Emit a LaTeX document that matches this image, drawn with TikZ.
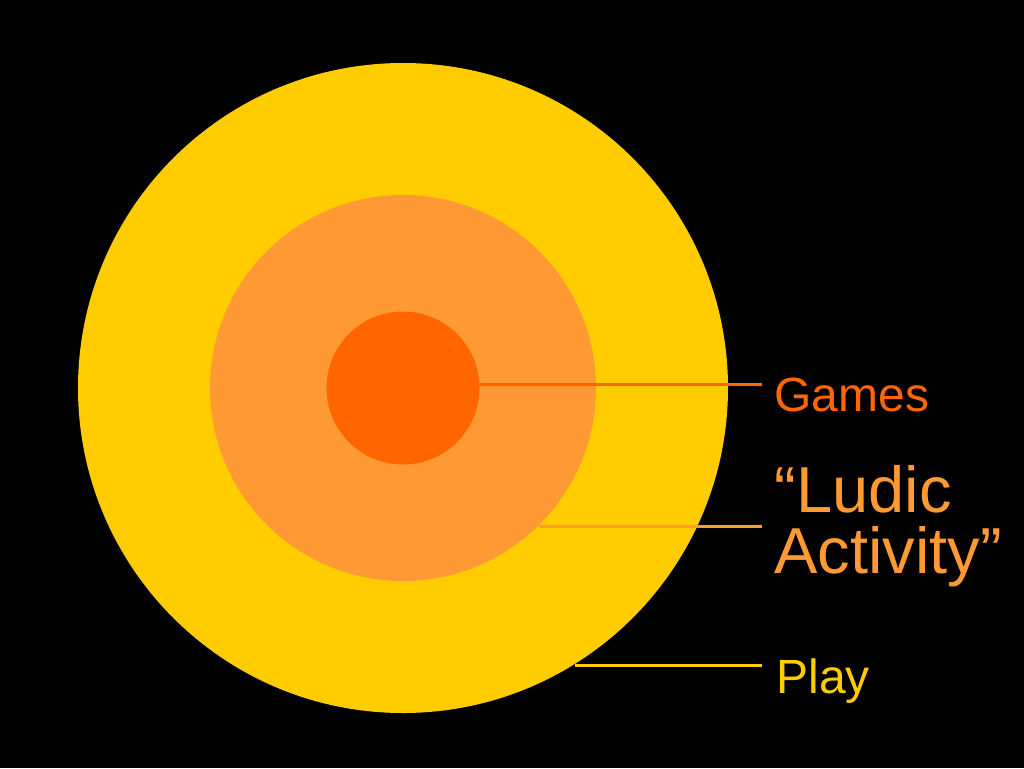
\documentclass[tikz,border=0pt]{standalone}
\usepackage{fontspec}
\setmainfont{Liberation Sans}
\usepackage{tikz}
\usetikzlibrary{positioning,calc}
\definecolor{playcol}{HTML}{FFCC00}
\definecolor{ludiccol}{HTML}{FF9933}
\definecolor{gamescol}{HTML}{FF6600}

\begin{document}
\begin{tikzpicture}[x=1pt,y=-1pt,line width=3pt]
\tikzstyle{ring}=[circle, draw=none, inner sep=0pt, outer sep=0pt]
\tikzstyle{lbl}=[inner sep=0pt, anchor=base west, align=left]

% background
\fill[black] (0,0) rectangle (1024,768);
\useasboundingbox (0,0) rectangle (1024,768);

\node[ring, fill=playcol, minimum size=650pt] (Play) at (403,388) {};
\node[ring, fill=ludiccol, minimum size=386pt] (Ludic) at (403,388) {};
\node[ring, fill=gamescol, minimum size=153pt] (Games) at (403,388) {};

%labels
\node[lbl, text=gamescol, font=\fontsize{48}{58}\selectfont] (GamesText) at (773,411) {Games};
\node[lbl, text=ludiccol, font=\fontsize{65}{61}\selectfont] (LudicText) at (773,573) {“Ludic\\Activity”};
\node[lbl, text=playcol, font=\fontsize{48}{58}\selectfont] (PlayText) at (775,693) {Play};

%leader lines
\coordinate (GamesEnd) at (762,384);
\coordinate (LudicEnd) at (762,526);
\coordinate (PlayEnd) at (762,665);
\draw[gamescol] (Games.3 |- GamesEnd) -- (GamesEnd);
\draw[ludiccol] (Ludic.-45.6 |- LudicEnd) -- (LudicEnd);
\draw[playcol] (Play.-58.5 |- PlayEnd) -- (PlayEnd);

\end{tikzpicture}
\end{document}
